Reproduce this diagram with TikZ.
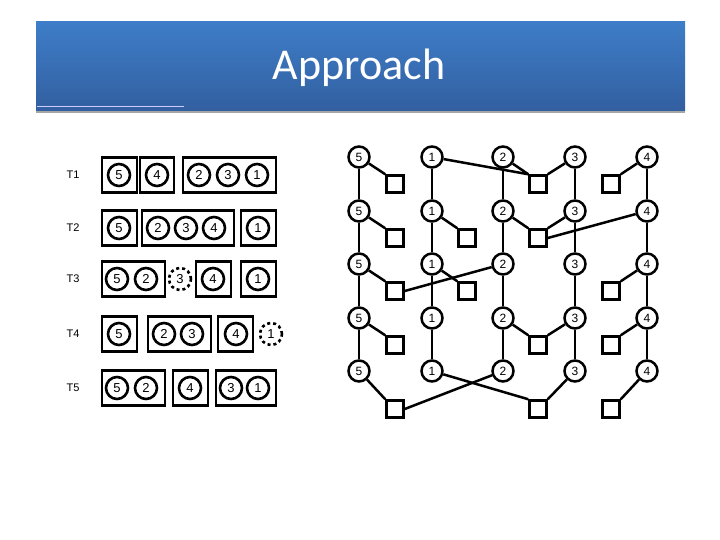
\documentclass[tikz,border=0pt]{standalone}
\usepackage{fontspec}
\setmainfont{Liberation Sans}
\newfontfamily\titlefont{Carlito}
\begin{document}
\begin{tikzpicture}[x=1pt,y=-1pt,
  cc/.style={circle,draw,line width=2.6pt,minimum size=22pt,inner sep=0pt,font=\fontsize{13}{13}\selectfont},
  dc/.style={cc,dashed},
  gc/.style={circle,draw,line width=2.5pt,minimum size=21pt,inner sep=0pt,font=\fontsize{12}{12}\selectfont},
  bx/.style={draw,line width=2.8pt},
  sq/.style={draw,line width=2.5pt,minimum size=17pt,inner sep=0pt},
  tl/.style={font=\fontsize{11}{11}\selectfont},
  ed/.style={line width=2.5pt}]
\useasboundingbox (0,0) rectangle (720,540);
\fill[top color={rgb,255:red,62;green,125;blue,200}, bottom color={rgb,255:red,50;green,95;blue,160}] (36,22) rectangle (685,111);
\draw[gray!70,line width=1.5pt] (36,112) -- (685,112);
\draw[white!80!blue,line width=1pt] (37,107) -- (184,107);
\node[text=white,font=\titlefont\fontsize{44}{44}\selectfont] (title) at (359,68) {Approach};
% left panel
\foreach \t/\y in {1/175,2/228,3/279,4/334,5/388}{\node[tl] (T\t) at (73,\y) {T\t};}
% T1
\draw[bx] (102,157.5) rectangle (137,192.5); \draw[bx] (140,157.5) rectangle (174,192.5); \draw[bx] (183,157.5) rectangle (276,192.5);
\node[cc] (a15) at (119,175) {5}; \node[cc] (a14) at (157,175) {4};
\node[cc] (a12) at (199,175) {2}; \node[cc] (a13) at (228,175) {3}; \node[cc] (a11) at (257,175) {1};
% T2
\draw[bx] (102,210.5) rectangle (137,245.5); \draw[bx] (142,210.5) rectangle (234,245.5); \draw[bx] (241,210.5) rectangle (276,245.5);
\node[cc] (a25) at (119,228) {5}; \node[cc] (a22) at (158,228) {2}; \node[cc] (a23) at (186,228) {3};
\node[cc] (a24) at (214,228) {4}; \node[cc] (a21) at (258,228) {1};
% T3
\draw[bx] (102,261.5) rectangle (165,296.5); \draw[bx] (196,261.5) rectangle (231,296.5); \draw[bx] (241,261.5) rectangle (276,296.5);
\node[cc] (a35) at (117,279) {5}; \node[cc] (a32) at (146,279) {2}; \node[dc] (a33) at (180,279) {3};
\node[cc] (a34) at (213,279) {4}; \node[cc] (a31) at (258,279) {1};
% T4
\draw[bx] (102,316.5) rectangle (137,351.5); \draw[bx] (148,316.5) rectangle (211,351.5); \draw[bx] (218,316.5) rectangle (253,351.5);
\node[cc] (a45) at (119,334) {5}; \node[cc] (a42) at (164,334) {2}; \node[cc] (a43) at (192,334) {3};
\node[cc] (a44) at (236,334) {4}; \node[dc] (a41) at (271,334) {1};
% T5
\draw[bx] (102,370.5) rectangle (165,405.5); \draw[bx] (173,370.5) rectangle (208,405.5); \draw[bx] (216,370.5) rectangle (276,405.5);
\node[cc] (a55) at (117,388) {5}; \node[cc] (a52) at (146,388) {2}; \node[cc] (a54) at (190,388) {4};
\node[cc] (a53) at (231,388) {3}; \node[cc] (a51) at (258,388) {1};
% right graph
\foreach \r/\y in {1/157,2/211,3/264,4/318,5/371}{
  \node[gc] (c5\r) at (359,\y) {5};
  \node[gc] (c1\r) at (432,\y) {1};
  \node[gc] (c2\r) at (503,\y) {2};
  \node[gc] (c3\r) at (575,\y) {3};
  \node[gc] (c4\r) at (647,\y) {4};
}
\foreach \c in {5,1,2,3,4}{
  \draw[ed] (c\c1) -- (c\c2); \draw[ed] (c\c2) -- (c\c3); \draw[ed] (c\c3) -- (c\c4); \draw[ed] (c\c4) -- (c\c5);
}
% squares
\node[sq] (s1a) at (395,184) {}; \node[sq] (s1c) at (538,184) {}; \node[sq] (s1d) at (611,184) {};
\node[sq] (s2a) at (395,238) {}; \node[sq] (s2b) at (467,238) {}; \node[sq] (s2c) at (538,238) {};
\node[sq] (s3a) at (395,291) {}; \node[sq] (s3b) at (467,291) {}; \node[sq] (s3d) at (611,291) {};
\node[sq] (s4a) at (395,345) {}; \node[sq] (s4c) at (538,345) {}; \node[sq] (s4d) at (611,345) {};
\node[sq] (s5a) at (395,409) {}; \node[sq] (s5c) at (538,409) {}; \node[sq] (s5d) at (611,409) {};
\draw[ed] (c51) -- (s1a.north west); \draw[ed] (c11) -- (s1c.north west); \draw[ed] (c21) -- (s1c.north west);
\draw[ed] (c31) -- (s1c.north east); \draw[ed] (c41) -- (s1d.north east);
\draw[ed] (c52) -- (s2a.north west); \draw[ed] (c12) -- (s2b.north west); \draw[ed] (c22) -- (s2c.north west);
\draw[ed] (c32) -- (s2c.north east); \draw[ed] (c42) -- (s2c.east);
\draw[ed] (c53) -- (s3a.north west); \draw[ed] (c23) -- (s3a.east); \draw[ed] (c13) -- (s3b.north west);
\draw[ed] (c43) -- (s3d.north east);
\draw[ed] (c54) -- (s4a.north west); \draw[ed] (c24) -- (s4c.north west); \draw[ed] (c34) -- (s4c.north east);
\draw[ed] (c44) -- (s4d.north east);
\draw[ed] (c55) -- (s5a.north west); \draw[ed] (c25) -- (s5a.east); \draw[ed] (c15) -- (s5c.north west);
\draw[ed] (c35) -- (s5c.north east); \draw[ed] (c45) -- (s5d.north east);
\end{tikzpicture}
\end{document}
